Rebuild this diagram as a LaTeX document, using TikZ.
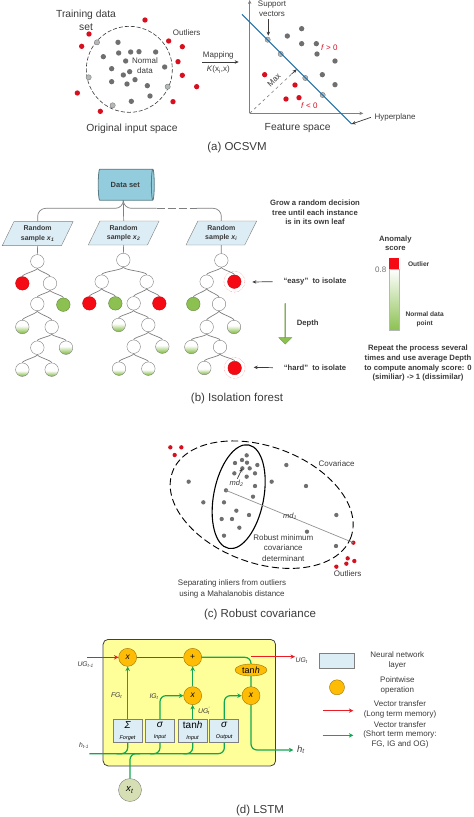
\documentclass[tikz,border=0pt]{standalone}
\usepackage{fontspec}
\setmainfont{Liberation Sans}
\usetikzlibrary{arrows.meta,shapes.geometric,shapes.arrows}
\definecolor{Ink}{HTML}{3A3A3A}
\definecolor{Dot}{HTML}{6F6F6F}
\definecolor{Pale}{HTML}{B4B8B8}
\definecolor{Crimson}{HTML}{D80F1F}
\definecolor{Hot}{HTML}{F50A14}
\definecolor{Leaf}{HTML}{8CC152}
\definecolor{Stem}{HTML}{7F7F7F}
\definecolor{Sky}{HTML}{DCEDF5}
\definecolor{Teal}{HTML}{93CDDD}
\definecolor{Amber}{HTML}{FFBC05}
\definecolor{Butter}{HTML}{FFFF99}
\definecolor{Wire}{HTML}{12A650}
\definecolor{Hyper}{HTML}{2470A8}
\definecolor{Sage}{HTML}{D6DFB4}
\definecolor{Long}{HTML}{EC1C24}
\pgfdeclareverticalshading{leafhalf}{100bp}{color(0bp)=(Leaf); color(29bp)=(Leaf); color(55bp)=(white); color(100bp)=(white)}
\pgfdeclareverticalshading{leaflow}{100bp}{color(0bp)=(Leaf); color(28bp)=(Leaf); color(46bp)=(white); color(100bp)=(white)}
\tikzset{
  lab/.style={font=\fontsize{8}{9.7}\selectfont,align=center,text=Ink},
  captext/.style={font=\fontsize{11.5}{13}\selectfont,text=Ink},
  sub/.style={font=\fontsize{10.3}{13.3}\selectfont,align=center,text=Ink},
  bold/.style={font=\fontsize{7.7}{9.6}\selectfont\bfseries,align=center,text=Ink},
  sample/.style={trapezium,trapezium left angle=63,trapezium right angle=117,trapezium stretches=true,
    draw=Stem,fill=Sky,minimum width=71pt,minimum height=24pt,inner sep=0pt,align=center,
    font=\fontsize{7}{9.6}\selectfont\bfseries,text=Ink},
  emptyleaf/.style={circle,draw=Stem,fill=white,minimum size=13.5pt,inner sep=0pt},
  redleaf/.style={emptyleaf,fill=Hot,draw=Hot!80!black},
  greenleaf/.style={emptyleaf,fill=Leaf,draw=Leaf!70!black},
  halfleaf/.style={emptyleaf,shading=leafhalf,draw=Stem},
  lowleaf/.style={emptyleaf,shading=leaflow,draw=Stem},
  halo/.style={circle,draw=Hot!60,densely dotted,minimum size=21pt,inner sep=0pt},
  stem/.style={draw=Stem,line width=0.7pt},
  thin arrow/.style={-{Stealth[length=4pt,width=3.5pt]},line width=0.7pt,draw=Ink},
  oper/.style={circle,draw=Amber!60!black,fill=Amber,minimum size=18pt,inner sep=0pt,font=\fontsize{8.5}{9}\selectfont\itshape},
  layerbox/.style={draw=Stem,line width=0.8pt,fill=Sky,minimum width=29pt,minimum height=23pt,inner sep=0pt,align=center},
  longwire/.style={draw=Long,line width=1.2pt,-{Stealth[length=4.5pt,width=4.5pt]}},
  shortwire/.style={draw=Wire,line width=1.2pt,rounded corners=6pt,-{Stealth[length=4.5pt,width=4.5pt]}},
  plainwire/.style={draw=Wire,line width=1.2pt,rounded corners=6pt},
  wirelab/.style={font=\fontsize{6.8}{8}\selectfont\itshape,text=Ink},
}
\begin{document}
\begin{tikzpicture}[x=0.33333pt,y=-0.33333pt]
  \useasboundingbox (0,0) rectangle (1422,2451);

  % (a) OCSVM
  \draw[Ink,dashed,dash pattern=on 4pt off 2pt,line width=0.6pt] (388,208) circle [radius=129];
  \foreach \x/\y in {354/127,310/170,356/159,392/156,417/155,467/156,377/183,335/206,389/215,370/225,335/245,381/252,405/239,442/257,494/201,450/288,394/304,862/108,905/86,905/131,949/131,951/162,1005/183,967/224,1005/254}
    \fill[Dot] (\x,\y) circle [radius=8];
  \foreach \x/\y in {291/127,266/232,338/316,503/260,803/119,842/162,916/234,968/285}
    \filldraw[fill=Pale,draw=Dot,line width=0.3pt] (\x,\y) circle [radius=8];
  \foreach \x/\y in {435/60,267/102,245/139,232/279,301/334,506/123,547/140,534/185,547/226,590/260,519/305,794/224,885/255,858/297,897/293}
    \fill[Crimson] (\x,\y) circle [radius=8];
  \coordinate (origin) at (749,340);
  \coordinate (ytop) at (749,0);
  \coordinate (xend) at (1090,340);
  \draw[Stem,line width=0.8pt,-{Stealth[length=4pt,width=3.5pt]}] (origin) -- (ytop);
  \draw[Stem,line width=0.8pt,-{Stealth[length=4pt,width=3.5pt]}] (origin) -- (xend);
  \coordinate (hyptop) at (726,43);
  \coordinate (hypend) at (1055,372);
  \draw[Hyper,line width=1pt] (hyptop) -- (hypend);
  \coordinate (maxend) at (890,208);
  \draw[Stem,dashed,line width=0.6pt] (origin) -- (maxend);
  \draw[thin arrow] (875,222) -- (maxend);
  \node[sub] (trainlab) at (258,60) {Training data\\set};
  \node[lab] (outlab) at (560,99) {Outliers};
  \node[lab] (normallab) at (435,197) {Normal\\data};
  \node[lab] (mapup) at (655,165) {Mapping};
  \node[lab] (mapdown) at (655,209) {\textit{K}(x\textsubscript{i},x)};
  \coordinate (mapa) at (607,186);
  \coordinate (mapb) at (716,186);
  \draw[thin arrow] (mapa) -- (mapb);
  \node[lab] (supportlab) at (816,27) {Support\\vectors};
  \coordinate (suptip) at (805,107);
  \draw[thin arrow] (805,58) -- (suptip);
  \node[lab,rotate=45] (maxlab) at (822,240) {Max};
  \node[lab,text=Crimson] (fpos) at (988,142) {\textit{f} > 0};
  \node[lab,text=Crimson] (fneg) at (928,318) {\textit{f} < 0};
  \node[lab] (hyplab) at (1185,352) {Hyperplane};
  \draw[thin arrow] (hyplab.west) -- (hypend);
  \node[sub] (origlab) at (396,385) {Original input space};
  \node[sub] (featlab) at (893,385) {Feature space};
  \node[captext] (capa) at (711,442) {(a) OCSVM};

  % (b) Isolation forest
  \begin{scope}[shift={(0,495)}]
    \node[cylinder,shape border rotate=0,aspect=0.55,draw=Teal!60!black,fill=Teal,line width=0.8pt,
      minimum height=56pt,minimum width=31pt,inner sep=0pt,font=\fontsize{7.5}{9}\selectfont\bfseries,text=Ink] (dataset) at (376,59) {Data set};
    \node[sample] (sample1) at (113,206) {Random\\sample \textit{x}\textsubscript{\textit{1}}};
    \node[sample] (sample2) at (371,204) {Random\\sample \textit{x}\textsubscript{\textit{2}}};
    \node[sample] (sample3) at (664,204) {Random\\sample \textit{x}\textsubscript{\textit{i}}};
    \coordinate (dsfoot) at (370,105);
    \coordinate (gapa) at (470,130);
    \coordinate (gapb) at (590,130);
    \draw[stem,rounded corners=8pt] (dsfoot) -- (370,130) -| (sample1.north);
    \draw[stem] (dsfoot) -- (sample2.north);
    \draw[stem,rounded corners=8pt] (dsfoot) -- (370,130) -- (gapa);
    \draw[stem,dash pattern=on 8pt off 3pt] (gapa) -- (gapb);
    \draw[stem,rounded corners=8pt] (gapb) -| (sample3.north);
    % tree 1
    \foreach \n/\x/\y/\s in {1/112/289/emptyleaf,2/67/355/redleaf,3/150/355/emptyleaf,4/112/417/emptyleaf,5/190/419/greenleaf,6/67/486/halfleaf,7/155/486/emptyleaf,8/112/548/emptyleaf,9/198/548/halfleaf,10/67/614/lowleaf,11/155/614/lowleaf}
      \node[\s] (a\n) at (\x,\y) {};
    \foreach \p/\c in {1/2,1/3,3/4,3/5,4/6,4/7,7/8,7/9,8/10,8/11}
      \draw[stem] (a\p.south) to[out=-90,in=90,looseness=0.35] (a\c.north);
    \draw[stem] (sample1.south) -- (a1.north);
    % tree 2
    \foreach \n/\x/\y/\s in {1/370/285/emptyleaf,2/305/350/emptyleaf,3/440/350/emptyleaf,4/268/415/redleaf,5/346/415/greenleaf,6/401/415/emptyleaf,7/478/415/redleaf,8/356/480/halfleaf,9/445/480/emptyleaf,10/401/545/emptyleaf,11/487/545/halfleaf,12/357/611/lowleaf,13/445/611/lowleaf}
      \node[\s] (b\n) at (\x,\y) {};
    \foreach \p/\c in {1/2,1/3,2/4,2/5,3/6,3/7,6/8,6/9,9/10,9/11,10/12,10/13}
      \draw[stem] (b\p.south) to[out=-90,in=90,looseness=0.35] (b\c.north);
    \draw[stem] (sample2.south) -- (b1.north);
    % tree 3
    \foreach \n/\x/\y/\s in {1/664/286/emptyleaf,2/620/350/emptyleaf,3/703/350/redleaf,4/580/417/greenleaf,5/657/417/emptyleaf,6/620/486/emptyleaf,7/702/486/halfleaf,8/574/546/halfleaf,9/660/546/emptyleaf,10/613/609/lowleaf,11/704/609/redleaf}
      \node[\s] (c\n) at (\x,\y) {};
    \foreach \p/\c in {1/2,1/3,2/4,2/5,5/6,5/7,6/8,6/9,9/10,9/11}
      \draw[stem] (c\p.south) to[out=-90,in=90,looseness=0.35] (c\c.north);
    \draw[stem] (sample3.south) -- (c1.north);
    \node[halo] (haloa) at (c3) {};
    \node[halo] (halob) at (c11) {};
  \end{scope}
  \begin{scope}[shift={(720,510)}]
    \node[bold] (growlab) at (225,127) {Grow a random decision\\tree until each instance\\is in its own leaf};
    \node[bold] (anomlab) at (466,220) {Anomaly\\score};
    \node[lab,text=Dot] (eightlab) at (422,299) {0.8};
    \node[bold,font=\fontsize{6.6}{8.6}\selectfont\bfseries] (outbar) at (536,281) {Outlier};
    \node[bold,font=\fontsize{6.6}{8.6}\selectfont\bfseries] (normbar) at (554,447) {Normal data\\point};
    \node[bold] (repeatlab) at (534,580) {Repeat the process several\\times and use average Depth\\to compute anomaly score: 0\\(similiar) -> 1 (dissimilar)};
    \node[bold] (easylab) at (225,335) {“easy”\ \ to isolate};
    \node[bold] (hardlab) at (225,593) {“hard”\ \ to isolate};
    \node[bold] (depthlab) at (203,461) {Depth};
    \draw[thin arrow] (easylab.west) ++(-22,0) -- (37,336);
    \draw[thin arrow] (hardlab.west) ++(-22,0) -- (41,592);
    \node[single arrow,rotate=-90,fill=Leaf,draw=Leaf!80!black,minimum height=40.5pt,minimum width=13pt,
      single arrow head extend=3pt,single arrow head indent=0pt,inner sep=0pt] (deptharrow) at (136,461) {};
    \draw[draw=Pale,line width=0.6pt,top color=white,bottom color=Leaf] (448,298) rectangle (477,480);
    \fill[Hot] (448,265) rectangle (477,298);
  \end{scope}
  \node[captext] (capb) at (711,1197) {(b) Isolation forest};

  % (c) Robust covariance
  \begin{scope}[shift={(360,1230)}]
    \draw[black,line width=0.9pt,dash pattern=on 7pt off 3.5pt,rotate around={-20:(425,284)}] (425,284) ellipse [x radius=285,y radius=175];
    \draw[black,line width=1.1pt,rotate around={79:(356,260)}] (356,260) ellipse [x radius=158,y radius=75];
    \foreach \x/\y in {206/215,250/277,312/277,349/302,305/327,336/327,387/315,358/353,312/377,380/136,345/159,366/150,381/158,412/165,389/175,343/190,405/190,380/200,405/228,399/260,455/215,499/165,558/228,649/315,561/365,648/408}
      \fill[Dot] (\x,\y) circle [radius=6.5];
    \fill[Dot] (318,241) circle [radius=6.5] coordinate (mdfrom);
    \fill[Dot] (367,175) circle [radius=6.5] coordinate (mdnear);
    \foreach \x/\y in {151/112,184/112,164/135,683/445,703/453,679/461,649/470}
      \fill[Crimson] (\x,\y) circle [radius=6.5];
    \fill[Crimson] (700,398) circle [radius=6.5] coordinate (mdto);
    \draw[Pale!80!black,line width=0.7pt] (mdfrom) -- (mdto);
    \coordinate (mdtail) at (352,206);
    \draw[thin arrow] (mdtail) -- (mdnear);
    \node[lab,font=\fontsize{7.5}{9}\selectfont\itshape] (mdtwo) at (350,220) {md\textsubscript{2}};
    \node[lab,font=\fontsize{7.5}{9}\selectfont\itshape] (mdone) at (510,320) {md\textsubscript{1}};
    \node[lab] (covlab) at (650,162) {Covariace};
    \node[lab,font=\fontsize{8}{10.3}\selectfont] (robustlab) at (490,414) {Robust minimum\\covariance\\determinant};
    \node[lab] (outc) at (683,492) {Outliers};
    \node[lab,font=\fontsize{8}{10.3}\selectfont] (seplab) at (336,537) {Separating inliers from outliers\\using a Mahalanobis distance};
    \node[captext] (capc) at (420,614) {(c) Robust covariance};
  \end{scope}

  % (d) LSTM
  \begin{scope}[shift={(0,1890)}]
    \node[draw=black!75,fill=Butter,line width=0.8pt,rounded corners=5pt,minimum width=172.5pt,minimum height=126.5pt,inner sep=0pt] (cell) at (568,218) {};
    \coordinate (ugin) at (262,82);
    \coordinate (hin) at (268,371);
    \coordinate (merge) at (753,82);
    \coordinate (ugout) at (885,80);
    \coordinate (hout) at (880,360);
    \draw[plainwire] (578,82) -- (merge) -- (753,197);
    \node[oper] (opf) at (383,82) {x};
    \node[oper] (opa) at (578,82) {\upshape +};
    \node[oper] (opi) at (578,197) {x};
    \node[oper] (opo) at (753,197) {x};
    \node[ellipse,draw=Amber!60!black,fill=Amber,minimum width=32pt,minimum height=12pt,inner sep=0pt,font=\fontsize{9}{10}\selectfont] (tanhop) at (753,120) {tan\textit{h}};
    \node[layerbox] (forget) at (383,302) {\fontsize{10}{11}\selectfont\textit{Σ}\\[-1pt]\fontsize{5.5}{6}\selectfont\textit{Forget}};
    \node[layerbox] (input) at (480,302) {\fontsize{10}{11}\selectfont\textit{σ}\\[-1pt]\fontsize{5.5}{6}\selectfont\textit{Input}};
    \node[layerbox] (tanin) at (578,302) {\fontsize{10}{11}\selectfont tan\textit{h}\\[-1pt]\fontsize{5.5}{6}\selectfont\textit{Input}};
    \node[layerbox] (output) at (673,302) {\fontsize{10}{11}\selectfont\textit{σ}\\[-1pt]\fontsize{5.5}{6}\selectfont\textit{Output}};
    \node[circle,draw=Stem,fill=Sage,minimum size=23pt,inner sep=0pt,font=\fontsize{9.5}{10}\selectfont] (xt) at (390,480) {\textit{x}\textsubscript{\textit{t}}};
    \draw[longwire] (ugin) -- (opf);
    \draw[draw=Long,line width=1.2pt] (opf) -- (opa);
    \draw[longwire] (753,80) -- (ugout);
    \draw[shortwire] (forget) -- (opf);
    \draw[shortwire] (input.north) |- (opi.west);
    \draw[shortwire] (tanin) -- (opi);
    \draw[shortwire] (opi) -- (opa);
    \draw[shortwire] (output.north) |- (opo.west);
    \draw[shortwire] (opo.south) |- (hout);
    \draw[plainwire] (hin) -| (output.south);
    \draw[plainwire] (forget.south) |- (350,371);
    \draw[plainwire] (input.south) |- (450,371);
    \draw[plainwire] (tanin.south) |- (550,371);
    \draw[plainwire] (xt.north) |- (420,371);
    \node[wirelab] (ugprev) at (257,103) {UG\textsubscript{t-1}};
    \node[wirelab] (fglab) at (350,198) {FG\textsubscript{t}};
    \node[wirelab] (iglab) at (462,201) {IG\textsubscript{t}};
    \node[wirelab] (ugnew) at (612,243) {UG\textsuperscript{'}\kern-2pt\textsubscript{t}};
    \node[wirelab] (hprev) at (252,346) {h\textsubscript{t-1}};
    \node[wirelab] (ugnext) at (905,92) {UG\textsubscript{t}};
    \node[wirelab,font=\fontsize{9.5}{10}\selectfont\itshape] (hnext) at (903,358) {h\textsubscript{t}};
    \node[captext] (capd) at (780,541) {(d) LSTM};
  \end{scope}
  % legend
  \begin{scope}[shift={(840,1920)}]
    \node[layerbox,minimum width=35.5pt,minimum height=15.5pt] (legbox) at (170.5,62.5) {};
    \node[oper,minimum size=15pt] (legop) at (171,142) {};
    \coordinate (lega) at (128,212);
    \coordinate (legb) at (220,212);
    \coordinate (legc) at (128,286);
    \coordinate (legd) at (220,286);
    \draw[longwire] (lega) -- (legb);
    \draw[shortwire] (legc) -- (legd);
    \node[lab] (legone) at (352,62) {Neural network\\layer};
    \node[lab] (legtwo) at (352,136) {Pointwise\\operation};
    \node[lab] (legthree) at (360,209) {Vector transfer\\(Long term memory)};
    \node[lab] (legfour) at (360,284) {Vector transfer\\(Short term memory:\\FG, IG and OG)};
  \end{scope}
\end{tikzpicture}
\end{document}
